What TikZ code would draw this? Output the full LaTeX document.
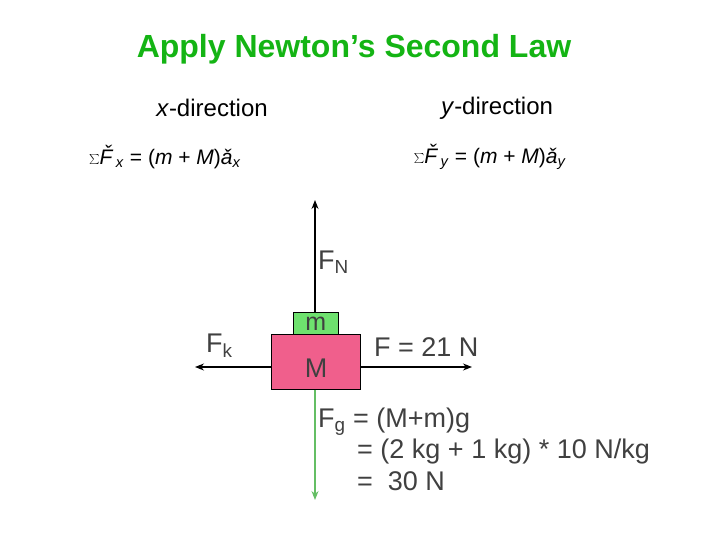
\documentclass[tikz,border=0pt]{standalone}
\usepackage{fontspec}
\setmainfont{Liberation Sans}
\usetikzlibrary{arrows.meta}
\definecolor{ttl}{RGB}{20,180,20}
\definecolor{pinkM}{RGB}{240,95,140}
\definecolor{greenm}{RGB}{110,225,110}
\definecolor{garrow}{RGB}{100,190,100}
\newcommand{\vsym}[1]{\textit{\v{#1}}}
\begin{document}
\begin{tikzpicture}[x=1pt,y=-1pt,
  lbl/.style={font=\fontsize{27}{30}\selectfont, text=black!75, inner sep=0pt, anchor=west},
  eq/.style={font=\fontsize{21}{24}\selectfont, inner sep=0pt},
  arr/.style={line width=1.2pt,-{Stealth[length=9pt,width=7pt]}}]
\useasboundingbox (0,0) rectangle (720,540);
\node[font=\bfseries\fontsize{32}{35}\selectfont, text=ttl] (title) at (354,49) {Apply Newton’s Second Law};
\node[font=\fontsize{24}{27}\selectfont] (xd) at (212,108) {\textit{x}-direction};
\node[font=\fontsize{24}{27}\selectfont] (yd) at (497,108) {\textit{y}-direction};
\node[eq] (ex) at (165,157) {$\textstyle\sum$\vsym{F}\textsubscript{\textit{x}} = (\textit{m} + \textit{M})\vsym{a}\textsubscript{\textit{x}}};
\node[eq] (ey) at (490,157) {$\textstyle\sum$\vsym{F}\textsubscript{\textit{y}} = (\textit{m} + \textit{M})\vsym{a}\textsubscript{\textit{y}}};
\node[draw=black, fill=pinkM, minimum width=89pt, minimum height=55pt, inner sep=0pt, anchor=north west, line width=0.8pt] (M) at (271,334) {};
\node[font=\fontsize{27}{30}\selectfont, text=black!75] (Mt) at (316,368) {M};
\node[draw=black, fill=greenm, minimum width=45pt, minimum height=22pt, inner sep=0pt, anchor=north west, line width=0.8pt, font=\fontsize{25}{27}\selectfont, text=black!75] (m) at (293,312) {m};
\coordinate (top) at (315,200);
\coordinate (bot) at (315,500);
\coordinate (lft) at (195,367);
\coordinate (rgt) at (472,367);
\draw[arr] (m.north -| top) -- (top);
\draw[arr, garrow] (M.south -| bot) -- (bot);
\draw[arr] (M.west |- lft) -- (lft);
\draw[arr] (M.east |- rgt) -- (rgt);
\node[lbl] (fn) at (318,262) {F\textsubscript{N}};
\node[lbl] (fk) at (206,346) {F\textsubscript{k}};
\node[lbl] (f) at (374,347) {F = 21 N};
\node[lbl, anchor=north west] (fg) at (318,408) {F\textsubscript{g} = (M+m)g};
\node[lbl] (l2) at (357,452) {= (2 kg + 1 kg) * 10 N/kg};
\node[lbl] (l3) at (357,481) {=\ \ 30 N};
\end{tikzpicture}
\end{document}
